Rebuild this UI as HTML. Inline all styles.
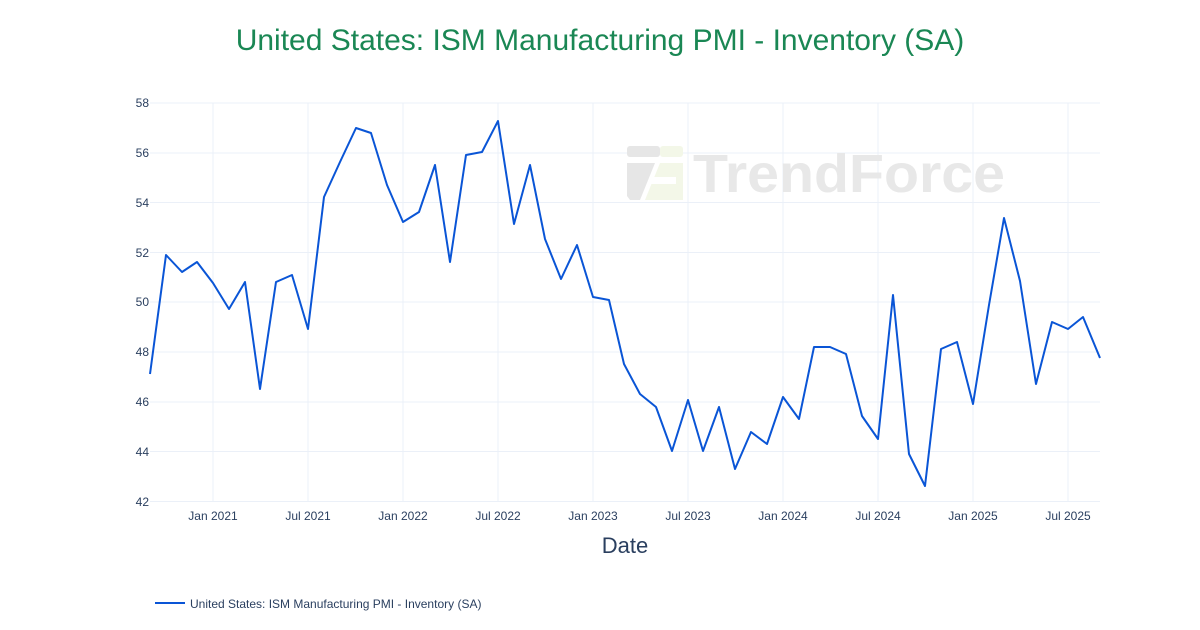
<!DOCTYPE html>
<html><head><meta charset="utf-8"><style>
html,body{margin:0;padding:0;background:#fff;}
svg{display:block;}
text{font-family:"Liberation Sans",Arial,sans-serif;}
</style></head><body>
<svg width="1200" height="630" viewBox="0 0 1200 630" xmlns="http://www.w3.org/2000/svg">
<rect width="1200" height="630" fill="#fff"/>
<!-- grid -->
<g stroke="#ebf0f8" stroke-width="1">
<line x1="150" x2="1100" y1="103" y2="103"/>
<line x1="150" x2="1100" y1="153" y2="153"/>
<line x1="150" x2="1100" y1="202.5" y2="202.5"/>
<line x1="150" x2="1100" y1="252.5" y2="252.5"/>
<line x1="150" x2="1100" y1="302" y2="302"/>
<line x1="150" x2="1100" y1="352" y2="352"/>
<line x1="150" x2="1100" y1="402" y2="402"/>
<line x1="150" x2="1100" y1="451.5" y2="451.5"/>
<line x1="150" x2="1100" y1="501.5" y2="501.5"/>
<line x1="213" x2="213" y1="103" y2="502"/>
<line x1="308" x2="308" y1="103" y2="502"/>
<line x1="403" x2="403" y1="103" y2="502"/>
<line x1="498" x2="498" y1="103" y2="502"/>
<line x1="593" x2="593" y1="103" y2="502"/>
<line x1="688" x2="688" y1="103" y2="502"/>
<line x1="783" x2="783" y1="103" y2="502"/>
<line x1="878" x2="878" y1="103" y2="502"/>
<line x1="973" x2="973" y1="103" y2="502"/>
<line x1="1068" x2="1068" y1="103" y2="502"/>
</g>
<!-- watermark -->
<g opacity="1">
<rect x="627" y="146" width="33" height="11" rx="3" fill="#e6e6e6"/>
<rect x="660" y="146" width="23" height="11" rx="3" fill="#f3f7e8"/>
<polygon points="627,163 655,163 640,200 630,200 627,196" fill="#e6e6e6"/>
<polygon points="660,163 683,163 683,200 645,200" fill="#f3f7e8"/>
<polygon points="652,177 676,177 676,184 649,184" fill="#fff"/>
<text x="693" y="192" font-size="54" font-weight="bold" fill="#e8e8e8" textLength="312" lengthAdjust="spacingAndGlyphs">TrendForce</text>
</g>
<!-- series -->
<polyline fill="none" stroke="#0a55d6" stroke-width="2" stroke-linejoin="round" points="
150,374 166,255 182,272 197,262 213,283 229,309 245,282 260,389 276,282 292,275 308,329 324,197 340,162 356,128 371,133 387,185 403,222 419,212 435,165 450,262 466,155 482,152 498,121 514,224 530,165 545,239 561,279 577,245 593,297 609,300 624,364 640,394 656,407 672,451 688,400 703,451 719,407 735,469 751,432 767,444 783,397 799,419 814,347 830,347 846,354 862,416 878,439 893,295 909,454 925,486 941,349 957,342 973,404 989,305 1004,218 1020,281 1036,384 1052,322 1068,329 1083,317 1100,358"/>
<!-- y tick labels -->
<g font-size="12" fill="#2a3f5f" text-anchor="end">
<text x="149" y="107">58</text>
<text x="149" y="157">56</text>
<text x="149" y="207">54</text>
<text x="149" y="257">52</text>
<text x="149" y="306">50</text>
<text x="149" y="356">48</text>
<text x="149" y="406">46</text>
<text x="149" y="456">44</text>
<text x="149" y="506">42</text>
</g>
<!-- x tick labels -->
<g font-size="12" fill="#2a3f5f" text-anchor="middle">
<text x="213" y="520">Jan 2021</text>
<text x="308" y="520">Jul 2021</text>
<text x="403" y="520">Jan 2022</text>
<text x="498" y="520">Jul 2022</text>
<text x="593" y="520">Jan 2023</text>
<text x="688" y="520">Jul 2023</text>
<text x="783" y="520">Jan 2024</text>
<text x="878" y="520">Jul 2024</text>
<text x="973" y="520">Jan 2025</text>
<text x="1068" y="520">Jul 2025</text>
</g>
<text x="625" y="553" font-size="22" fill="#2a3f5f" text-anchor="middle">Date</text>
<text x="600" y="50" font-size="30" fill="#1a8754" text-anchor="middle">United States: ISM Manufacturing PMI - Inventory (SA)</text>
<!-- legend -->
<line x1="155" x2="185" y1="603" y2="603" stroke="#0a55d6" stroke-width="2"/>
<text x="190" y="608" font-size="12" fill="#2a3f5f">United States: ISM Manufacturing PMI - Inventory (SA)</text>
</svg>
</body></html>
